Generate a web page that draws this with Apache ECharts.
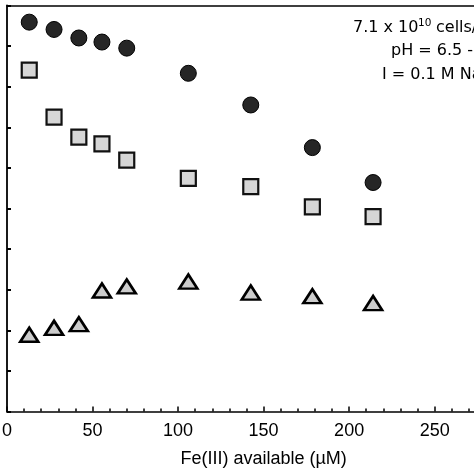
<!DOCTYPE html>
<html><head><meta charset="utf-8">
<script src="https://cdn.jsdelivr.net/npm/echarts@6/dist/echarts.min.js"></script>
<style>html,body{margin:0;padding:0;background:#fff;overflow:hidden}#c{width:474px;height:474px}</style>
</head><body><div id="c"></div>
<script>
// Fe(III) available (µM)
const feAvailable = [13, 27.5, 42, 55.5, 70, 106, 142.5, 178.5, 214];
// three series (y axis 0-100, labels cropped)
const circleSeries = [95.9, 94.1, 92.0, 91.0, 89.5, 83.3, 75.5, 65.0, 56.4];
const squareSeries = [84.1, 72.5, 67.6, 65.9, 61.9, 57.4, 55.4, 50.4, 48.0];
const triangleSeries = [18.9, 20.6, 21.5, 29.8, 30.8, 32.0, 29.3, 28.4, 26.7];
const xTickLabels = ['0', '50', '100', '150', '200', '250', '300'];
const noteLines = ['7.1 x 10', '10', 'cells/L', 'pH = 6.5 - 7.0', 'I = 0.1 M NaNO\u2083'];

const pairs = ys => feAvailable.map((x, i) => [x, ys[i]]);
const black = '#000';
const chart = echarts.init(document.getElementById('c'), null, {renderer: 'canvas'});
const txt = {fontFamily: 'DejaVu Sans', fontSize: 16, fill: black, verticalAlign: 'middle', align: 'left'};
chart.setOption({
  animation: false,
  backgroundColor: '#fff',
  grid: {left: 7, width: 513.2, top: 5.5, height: 406, containLabel: false, outerBoundsMode: 'none'},
  xAxis: [{
    type: 'value', min: 0, max: 300, interval: 50, position: 'bottom',
    axisLine: {show: true, lineStyle: {color: black, width: 1.6}},
    axisTick: {show: true, inside: true, length: 5, lineStyle: {color: black, width: 1.5}},
    minorTick: {show: true, splitNumber: 5, length: 3, lineStyle: {color: black, width: 1.5}},
    splitLine: {show: false},
    axisLabel: {margin: 11, fontSize: 18, fontFamily: 'Liberation Sans', color: black,
      formatter: v => xTickLabels[Math.round(v / 50)] || ''},
    name: 'Fe(III) available (\u00b5M)', nameLocation: 'middle', nameGap: 39,
    nameTextStyle: {fontSize: 18, fontFamily: 'Liberation Sans', color: black}
  }, {
    type: 'value', min: 0, max: 300, position: 'top',
    axisLine: {show: true, lineStyle: {color: black, width: 1.6}},
    axisTick: {show: false}, axisLabel: {show: false}, splitLine: {show: false}
  }],
  yAxis: {
    type: 'value', min: 0, max: 100, interval: 10,
    axisLine: {show: true, lineStyle: {color: black, width: 1.8}},
    axisTick: {show: true, inside: true, length: 4, lineStyle: {color: black, width: 2}},
    axisLabel: {show: false}, splitLine: {show: false}
  },
  series: [
    {type: 'scatter', data: pairs(circleSeries), symbol: 'circle', symbolSize: 16,
      itemStyle: {color: '#262626', borderColor: black, borderWidth: 1, opacity: 1}},
    {type: 'scatter', data: pairs(squareSeries), symbol: 'rect', symbolSize: 15,
      itemStyle: {color: '#d6d6d6', borderColor: '#111', borderWidth: 2.2, opacity: 1}},
    {type: 'scatter', data: pairs(triangleSeries), symbol: 'triangle', symbolSize: [18, 14],
      itemStyle: {color: '#cccccc', borderColor: black, borderWidth: 2.6, opacity: 1}}
  ],
  graphic: [
    {type: 'text', x: 353, y: 27.5, style: Object.assign({}, txt, {text: noteLines[0]})},
    {type: 'text', x: 418, y: 23.5, style: Object.assign({}, txt, {text: noteLines[1], fontSize: 10.5})},
    {type: 'text', x: 436, y: 27.5, style: Object.assign({}, txt, {text: noteLines[2]})},
    {type: 'text', x: 391, y: 51, style: Object.assign({}, txt, {text: noteLines[3]})},
    {type: 'text', x: 382, y: 75, style: Object.assign({}, txt, {text: noteLines[4]})}
  ]
});
</script></body></html>
